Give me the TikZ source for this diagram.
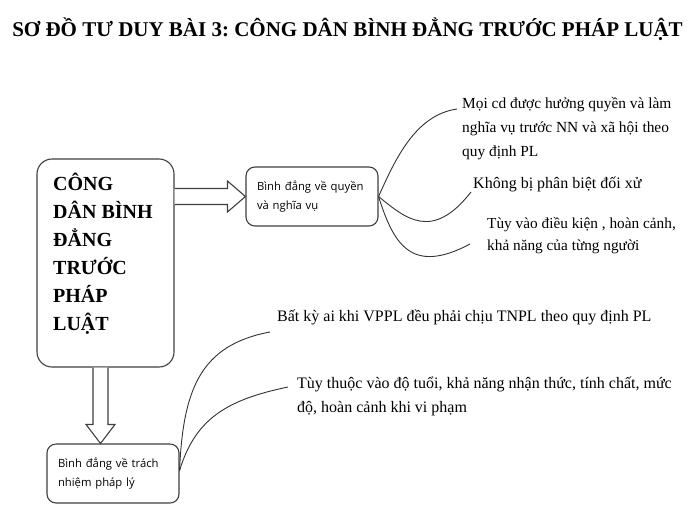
\documentclass[tikz,border=0pt]{standalone}
\usepackage{fontspec}
\setmainfont{Liberation Serif}
\newfontfamily\boxfont{Open Sans}
\usetikzlibrary{calc}
\frenchspacing
\tikzset{
  box/.style={draw=black!75, line width=1.1pt, rounded corners=9pt},
  smallbox/.style={box, text width=110pt, inner xsep=11pt, inner ysep=0pt, minimum height=59pt, align=left,
     font=\boxfont\fontsize{11.3}{19}\selectfont},
  leaf/.style={align=left, inner sep=0pt, anchor=base west},
  branch/.style={draw=black!80, line width=0.9pt},
  hollow/.style={draw=black!75, line width=1.1pt, fill=white},
}
\begin{document}
\begin{tikzpicture}[x=1pt,y=-1pt]
\useasboundingbox (0,0) rectangle (700,512);
\fill[white] (0,0) rectangle (700,512);

\node[inner sep=0pt, anchor=base, font=\bfseries\fontsize{21}{24}\selectfont] (title) at (347.5,36)
  {SƠ ĐỒ TƯ DUY BÀI 3: CÔNG DÂN BÌNH ĐẲNG TRƯỚC PHÁP LUẬT};

% main box
\node[box, rounded corners=15pt, minimum width=137pt, minimum height=208pt, inner sep=0pt] (main) at (105.5,263) {};
\node[inner sep=0pt, anchor=base west, align=left, font=\bfseries\fontsize{20}{28}\selectfont] (maintext) at (53,330)
  {CÔNG\\DÂN BÌNH\\ĐẲNG\\TRƯỚC\\PHÁP\\LUẬT};

% small boxes
\node[smallbox] (b1) at (312,196.5) {Bình đẳng về quyền\\và nghĩa vụ};
\node[smallbox] (b2) at (113,473.5) {Bình đẳng về trách\\nhiệm pháp lý};

% hollow arrow right
\coordinate (ra) at (main.east |- b1.west);
\draw[hollow] ($(ra)+(0,-8)$) -- ($(b1.west)+(-18,-8)$) -- ($(b1.west)+(-18,-15.5)$) -- (b1.west)
  -- ($(b1.west)+(-18,15.5)$) -- ($(b1.west)+(-18,8)$) -- ($(ra)+(0,8)$);

% hollow arrow down
\coordinate (da) at (100.5,0);
\coordinate (dtop) at (da |- main.south);
\coordinate (dtip) at (da |- b2.north);
\draw[hollow] ($(dtop)+(-7.5,0)$) -- ($(dtip)+(-7.5,-19)$) -- ($(dtip)+(-14.5,-19)$) -- (dtip)
  -- ($(dtip)+(14.5,-19)$) -- ($(dtip)+(7.5,-19)$) -- ($(dtop)+(7.5,0)$);

% leaves of b1
\node[leaf, font=\fontsize{15.4}{24}\selectfont] (l1) at (462,156) {Mọi cd được hưởng quyền và làm\\nghĩa vụ trước NN và xã hội theo\\quy định PL};
\node[leaf, font=\fontsize{16}{22}\selectfont] (l2) at (473,188) {Không bị phân biệt đối xử};
\node[leaf, font=\fontsize{15.3}{22}\selectfont] (l3) at (487,250) {Tùy vào điều kiện , hoàn cảnh,\\khả năng của từng người};

\coordinate (c1) at (457,109);
\coordinate (c2) at (471,192);
\coordinate (c3) at (470,244);
\draw[branch] (b1.east) .. controls (395,160) and (415,115) .. (c1);
\draw[branch] (b1.east) .. controls (405,218) and (432,242) .. (c2);
\draw[branch] (b1.east) .. controls (393,242) and (410,276) .. (c3);

% leaves of b2
\node[leaf, font=\fontsize{16}{24}\selectfont] (l4) at (277,321) {Bất kỳ ai khi VPPL đều phải chịu TNPL theo quy định PL};
\node[leaf, font=\fontsize{16}{24}\selectfont] (l5) at (297,412) {Tùy thuộc vào độ tuổi, khả năng nhận thức, tính chất, mức\\độ, hoàn cảnh khi vi phạm};

\coordinate (c4) at (270,332);
\coordinate (c5) at (288,387);
\draw[branch] ($(b2.east)+(0,-3)$) .. controls (183,390) and (200,345) .. (c4);
\draw[branch] ($(b2.east)+(0,-3)$) .. controls (195,420) and (225,400) .. (c5);
\end{tikzpicture}
\end{document}
